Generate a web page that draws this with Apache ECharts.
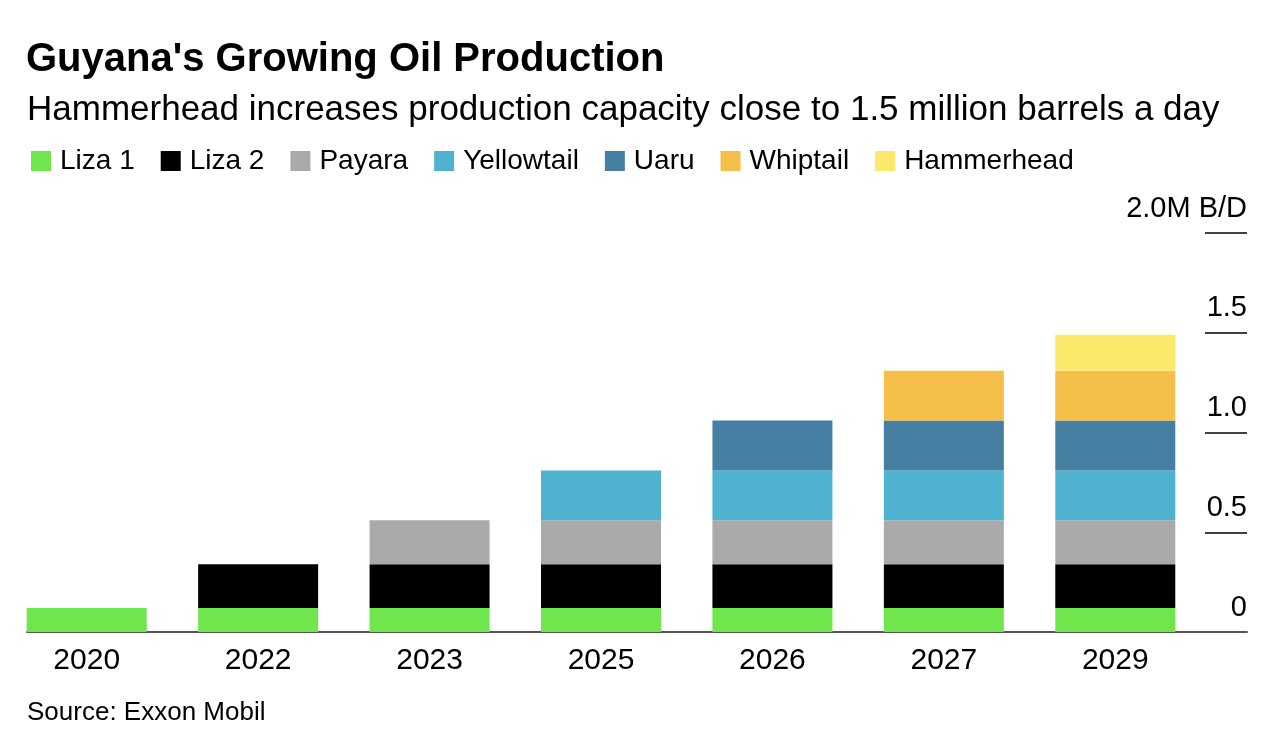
<!DOCTYPE html>
<html>
<head>
<meta charset="utf-8">
<title>Guyana's Growing Oil Production</title>
<script src="https://cdn.jsdelivr.net/npm/echarts@6/dist/echarts.min.js"></script>
<style>
    html, body { margin: 0; padding: 0; background: #fff; }
    #chart { width: 1276px; height: 739px; }
</style>
</head>
<body>
<div id="chart"></div>
<script>
// 数据 (million barrels a day)
var years = ['2020', '2022', '2023', '2025', '2026', '2027', '2029'];
var liza1 = [0.12, 0.12, 0.12, 0.12, 0.12, 0.12, 0.12];
var liza2 = [null, 0.22, 0.22, 0.22, 0.22, 0.22, 0.22];
var payara = [null, null, 0.22, 0.22, 0.22, 0.22, 0.22];
var yellowtail = [null, null, null, 0.25, 0.25, 0.25, 0.25];
var uaru = [null, null, null, null, 0.25, 0.25, 0.25];
var whiptail = [null, null, null, null, null, 0.25, 0.25];
var hammerhead = [null, null, null, null, null, null, 0.18];
var yTicks = [0, 0.5, 1, 1.5, 2];
var yTickLabels = ['0', '0.5', '1.0', '1.5', '2.0M B/D'];

var font = "'Liberation Sans', Arial, Helvetica, sans-serif";

var fields = [
    { name: 'Liza 1', data: liza1, color: '#6ee64c' },
    { name: 'Liza 2', data: liza2, color: '#000000' },
    { name: 'Payara', data: payara, color: '#aaaaaa' },
    { name: 'Yellowtail', data: yellowtail, color: '#4fb2d1' },
    { name: 'Uaru', data: uaru, color: '#4580a3' },
    { name: 'Whiptail', data: whiptail, color: '#f6bf4a' },
    { name: 'Hammerhead', data: hammerhead, color: '#fce96c' }
];

var series = fields.map(function (f) {
    return {
        name: f.name,
        type: 'bar',
        stack: 'total',
        xAxisIndex: 0,
        yAxisIndex: 0,
        barCategoryGap: '30%',
        itemStyle: { color: f.color },
        data: f.data
    };
});

var chart = echarts.init(document.getElementById('chart'));
chart.setOption({
    animation: false,
    backgroundColor: '#fff',
    textStyle: { fontFamily: font },
    title: [{
        text: "Guyana's Growing Oil Production",
        left: 26,
        top: 40,
        padding: 0,
        textStyle: { fontFamily: font, fontSize: 40, fontWeight: 'bold', color: '#000', lineHeight: 40 }
    }, {
        text: 'Hammerhead increases production capacity close to 1.5 million barrels a day',
        left: 27,
        top: 93,
        padding: 0,
        textStyle: { fontFamily: font, fontSize: 35, fontWeight: 'normal', color: '#000', lineHeight: 35 }
    }, {
        text: 'Source: Exxon Mobil',
        left: 27,
        top: 700,
        padding: 0,
        textStyle: { fontFamily: font, fontSize: 26, fontWeight: 'normal', color: '#000', lineHeight: 26 }
    }],
    legend: {
        left: 31,
        top: 147,
        icon: 'rect',
        itemWidth: 20,
        itemHeight: 20,
        itemGap: 26,
        padding: 0,
        selectedMode: false,
        textStyle: { fontFamily: font, fontSize: 28, color: '#000', lineHeight: 20, padding: [0, 0, 0, 4] },
        data: fields.map(function (f) { return f.name; })
    },
    grid: [
        { left: 1, width: 1200, top: 233, bottom: 107 },
        { left: 27, right: 29, top: 233, bottom: 107 },
        { left: 1205, right: 29, top: 233, bottom: 107 }
    ],
    xAxis: [{
        type: 'category',
        gridIndex: 0,
        data: years,
        axisLine: { show: false },
        axisTick: { show: false },
        axisLabel: { fontFamily: font, fontSize: 30, color: '#000', margin: 14, lineHeight: 30 }
    }, {
        type: 'value',
        gridIndex: 1,
        min: 0,
        max: 1,
        axisLine: { show: true, lineStyle: { color: '#555', width: 2 } },
        axisTick: { show: false },
        axisLabel: { show: false },
        splitLine: { show: false }
    }, {
        type: 'value',
        gridIndex: 2,
        min: 0,
        max: 1,
        show: false
    }],
    yAxis: [{
        type: 'value',
        gridIndex: 0,
        min: 0,
        max: 2,
        show: false
    }, {
        // labels sit above the short tick lines, right aligned
        type: 'value',
        gridIndex: 1,
        position: 'right',
        min: 0,
        max: 2,
        interval: 0.5,
        axisLine: { show: false },
        splitLine: { show: false },
        axisTick: { show: false },
        axisLabel: {
            inside: true,
            margin: 0,
            showMinLabel: true,
            showMaxLabel: true,
            align: 'right',
            verticalAlign: 'bottom',
            lineHeight: 29,
            padding: [0, 0, 10, 0],
            fontFamily: font,
            fontSize: 29,
            color: '#000',
            formatter: function (v) {
                var i = yTicks.indexOf(v);
                return i >= 0 ? yTickLabels[i] : '';
            }
        }
    }, {
        // short tick lines at the right edge
        type: 'value',
        gridIndex: 2,
        min: 0,
        max: 2,
        interval: 0.5,
        axisLine: { show: false },
        axisTick: { show: false },
        axisLabel: { show: false },
        splitLine: { show: true, lineStyle: { color: '#000', width: 1.5 } }
    }],
    series: series
});
</script>
</body>
</html>
